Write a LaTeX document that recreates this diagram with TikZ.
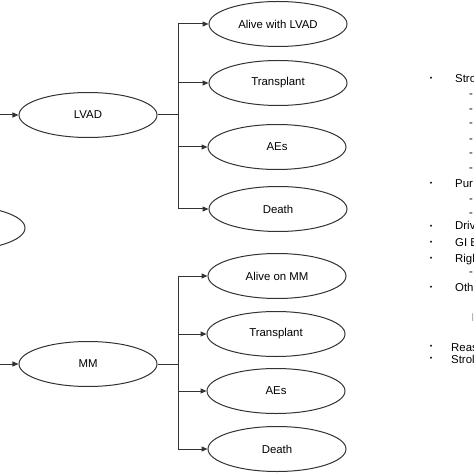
\documentclass[tikz,border=0pt]{standalone}
\usepackage{fontspec}
\setmainfont{Liberation Sans}
\usetikzlibrary{shapes.geometric,arrows.meta}
\begin{document}
\begin{tikzpicture}[x=1bp,y=-1bp,
  oval/.style={ellipse,draw=black!80,line width=1bp,minimum width=138bp,minimum height=45bp,inner sep=0pt,font=\fontsize{11.4bp}{13bp}\selectfont},
  conn/.style={draw=black!80,line width=1bp},
  arr/.style={conn,-{Triangle[length=6bp,width=5bp]}},
  lst/.style={anchor=base west,inner sep=0pt,font=\fontsize{11.4bp}{13bp}\selectfont},
  bul/.style={anchor=center,inner sep=0pt,font=\fontsize{7bp}{8bp}\selectfont}]
\useasboundingbox (0,0) rectangle (474,474);
% root (cut off at left edge)
\node[oval] (root) at (-44,228) {};
% second level
\node[oval] (lvad) at (88,115) {LVAD};
\node[oval] (mm) at (88,364) {MM};
% LVAD outcomes
\node[oval] (l1) at (278,24) {Alive with LVAD};
\node[oval] (l2) at (278,83) {Transplant};
\node[oval] (l3) at (277,147) {AEs};
\node[oval] (l4) at (278,209) {Death};
% MM outcomes
\node[oval] (m1) at (277,276) {Alive on MM};
\node[oval] (m2) at (276,334) {Transplant};
\node[oval] (m3) at (276,391) {AEs};
\node[oval] (m4) at (277,449) {Death};
% connectors
\coordinate (inL) at (-2,115);
\coordinate (inM) at (-2,364);
\draw[arr] (inL) -- (lvad);
\draw[arr] (inM) -- (mm);
\coordinate (jL) at (178,115);
\coordinate (jM) at (178,364);
\draw[conn] (lvad.east) -- (jL);
\draw[conn] (mm.east) -- (jM);
\foreach \t in {l1,l2,l3,l4} \draw[arr] (jL) |- (\t.west);
\foreach \t in {m1,m2,m3,m4} \draw[arr] (jM) |- (\t.west);
% right-hand list (cut off at right edge)
\node[bul] (b1) at (431,79) {•};
\node[lst] (t1) at (455,83) {Stro};
\node[lst] (d1) at (469,97.5) {-};
\node[lst] (d2) at (469,112.5) {-};
\node[lst] (d3) at (469,126.5) {-};
\node[lst] (d4) at (469,142.5) {-};
\node[lst] (d5) at (469,156.5) {-};
\node[lst] (d6) at (469,171.5) {-};
\node[bul] (b2) at (431,184) {•};
\node[lst] (t2) at (455,188) {Pur};
\node[lst] (d7) at (469,202.5) {-};
\node[lst] (d8) at (469,216.5) {-};
\node[bul] (b3) at (431,227) {•};
\node[lst] (t3) at (455,230) {Driv};
\node[bul] (b4) at (431,243) {•};
\node[lst] (t4) at (455,246) {GI B};
\node[bul] (b5) at (431,259) {•};
\node[lst] (t5) at (455,262) {Righ};
\node[lst] (d9) at (469,275.5) {-};
\node[bul] (b6) at (431,288) {•};
\node[lst] (t6) at (455,291) {Othe};
\node[lst,text=black!30] (h1) at (471,321) {I};
\node[bul] (b7) at (431,347) {•};
\node[lst] (t7) at (451,351) {Reas};
\node[bul] (b8) at (431,359) {•};
\node[lst] (t8) at (451,363) {Strol};
\end{tikzpicture}
\end{document}
